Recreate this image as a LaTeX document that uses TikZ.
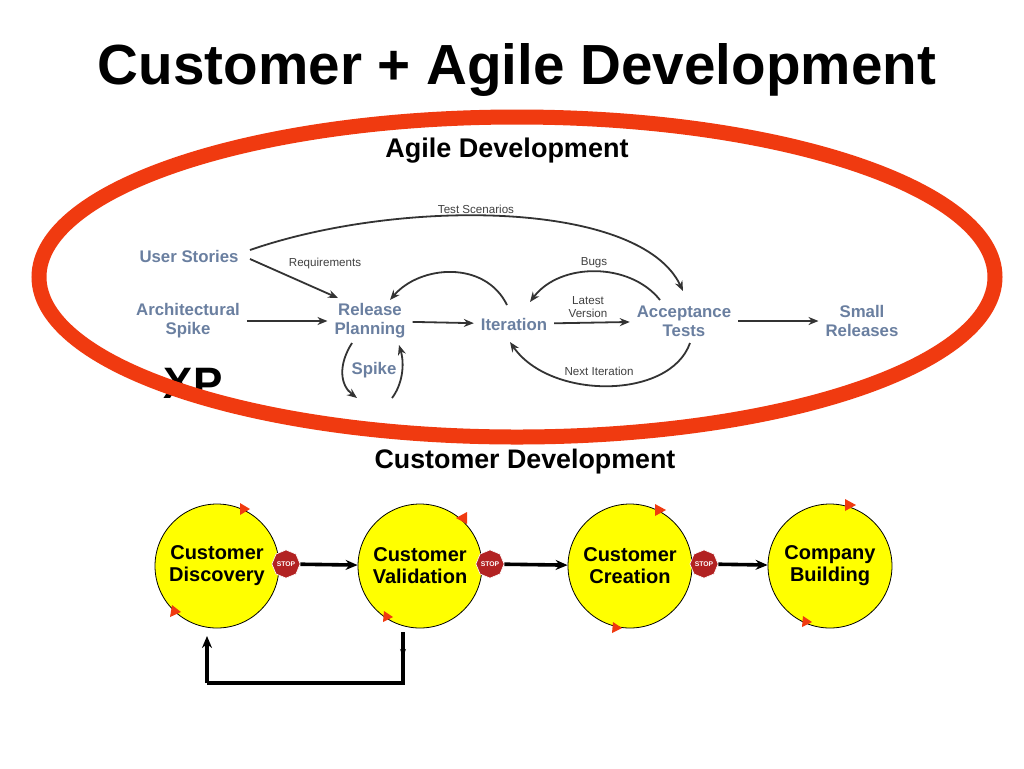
\documentclass[tikz,border=0pt]{standalone}
\usepackage{fontspec}
\setmainfont{Liberation Sans}
\usetikzlibrary{arrows.meta,shapes.geometric}
\definecolor{ring}{HTML}{F03A10}
\definecolor{ag}{HTML}{6A7FA0}
\definecolor{cy}{HTML}{FFFF00}
\definecolor{stopred}{HTML}{B22222}
\begin{document}
\begin{tikzpicture}[x=0.5pt,y=-0.5pt,
  big/.style={font=\fontsize{8.4}{9.4}\selectfont\bfseries,text=ag,align=center},
  lbl/.style={font=\fontsize{5.8}{6.6}\selectfont,text=black!75,align=center},
  ar/.style={-{Stealth[length=5pt,width=4pt]},line width=0.9pt,black!80},
  cd/.style={circle,draw=black,line width=0.4pt,fill=cy,minimum size=62pt,font=\fontsize{10}{11}\selectfont\bfseries,align=center},
  stopsign/.style={regular polygon,regular polygon sides=8,fill=stopred,draw=white,line width=0.3pt,minimum size=13pt,inner sep=0pt,font=\fontsize{3.4}{3.6}\selectfont\bfseries,text=white,shape border rotate=22.5},
  ca/.style={-{Stealth[length=6pt,width=5pt]},line width=1.8pt},
  tri/.style={fill=ring}]
\useasboundingbox (0,0) rectangle (1024,768);
\fill[white] (0,0) rectangle (1024,768);
\node (title) at (517,70) {\fontsize{28.3}{31}\selectfont\bfseries Customer + Agile Development};
% XP logo behind ring
\node[font=\fontsize{22}{22}\selectfont\bfseries] (xp) at (193,383) {XP};
\draw[ring,line width=7.5pt] (517,277) ellipse [x radius=478,y radius=160];
\node (agt) at (507,151) {\fontsize{13.5}{15}\selectfont\bfseries Agile Development};
% agile nodes
\node[big] (us) at (189,256) {User Stories};
\node[big] (as) at (188,321) {Architectural\\Spike};
\node[big] (rp) at (370,321) {Release\\Planning};
\node[big] (it) at (514,324) {Iteration};
\node[big] (at) at (684,321) {Acceptance\\Tests};
\node[big] (sr) at (862,321) {Small\\Releases};
\node[big] (sp) at (374,370) {Spike};
\node[lbl] (lreq) at (325,263) {Requirements};
\node[lbl] (lts) at (476,209) {Test Scenarios};
\node[lbl] (lbug) at (594,263) {Bugs};
\node[lbl] (llv) at (588,307) {Latest\\Version};
\node[lbl] (lni) at (599,371) {Next Iteration};
\coordinate (usr) at (250,259);
\coordinate (ust) at (250,250);
\draw[ar] (usr) -- (338,298);
\draw[ar] (ust) .. controls (400,198) and (640,200) .. (683,291);
\draw[ar] (as) -- (rp);
\draw[ar] (rp) -- (it);
\draw[ar] (it) -- (at);
\draw[ar] (at) -- (sr);
\draw[ar] (507,305) .. controls (485,260) and (420,265) .. (390,300);
\draw[ar] (660,300) .. controls (630,262) and (560,262) .. (530,302);
\draw[ar] (690,343) .. controls (670,400) and (550,400) .. (510,342);
\draw[ar] (352,343) .. controls (338,365) and (340,385) .. (357,398);
\draw[ar] (392,398) .. controls (402,385) and (405,365) .. (399,345);
% customer development
\node (cdt) at (525,462) {\fontsize{13.4}{15}\selectfont\bfseries Customer Development};
\node[cd] (c1) at (217,566) {Customer\\Discovery};
\node[cd] (c2) at (420,566) {Customer\\Validation};
\node[cd] (c3) at (630,566) {Customer\\Creation};
\node[cd] (c4) at (830,566) {Company\\Building};
\node[stopsign] (s1) at (286,564) {STOP};
\node[stopsign] (s2) at (490,564) {STOP};
\node[stopsign] (s3) at (704,564) {STOP};
\draw[ca] (s1) -- (c2);
\draw[ca] (s2) -- (c3);
\draw[ca] (s3) -- (c4);
\coordinate (f1) at (403,632);
\coordinate (f2) at (403,683);
\coordinate (f3) at (207,683);
\coordinate (f4) at (207,636);
\draw[line width=1.8pt] (f1) -- (f2) -- (f3);
\draw[ca] (f3) -- (f4);
\draw[-{Stealth[length=4pt,width=3pt]},line width=0.6pt] (403,640) -- (403,657);
% small red triangles on circles
\fill[tri] (240,503)--(250,509)--(240,515)--cycle;
\fill[tri] (170,617)--(172,605)--(181,612)--cycle;
\fill[tri] (456,518)--(467,512)--(467,524)--cycle;
\fill[tri] (383,622)--(384,611)--(393,617)--cycle;
\fill[tri] (655,504)--(666,510)--(655,516)--cycle;
\fill[tri] (612,633)--(613,622)--(622,628)--cycle;
\fill[tri] (845,499)--(856,505)--(845,511)--cycle;
\fill[tri] (802,627)--(803,616)--(812,622)--cycle;
\end{tikzpicture}
\end{document}
